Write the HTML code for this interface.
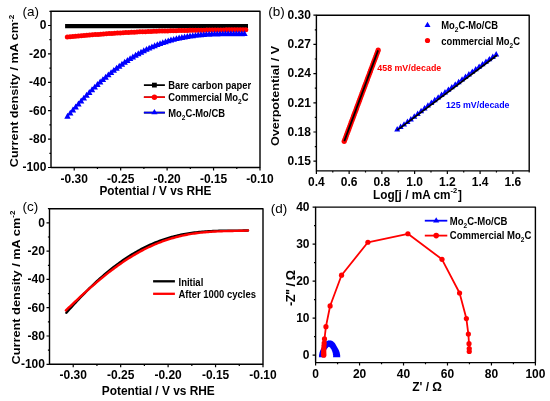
<!DOCTYPE html>
<html><head><meta charset="utf-8"><title>Figure</title>
<style>html,body{margin:0;padding:0;background:#fff;}svg{display:block;}</style>
</head><body>
<svg width="550" height="401" viewBox="0 0 550 401" font-family="'Liberation Sans', Arial, sans-serif">
<rect width="550" height="401" fill="#fff"/>
<path d="M65.1 23.9h4.4v4.4h-4.4zM67.89 23.9h4.4v4.4h-4.4zM70.68 23.9h4.4v4.4h-4.4zM73.47 23.9h4.4v4.4h-4.4zM76.26 23.9h4.4v4.4h-4.4zM79.05 23.9h4.4v4.4h-4.4zM81.83 23.9h4.4v4.4h-4.4zM84.62 23.9h4.4v4.4h-4.4zM87.41 23.9h4.4v4.4h-4.4zM90.2 23.9h4.4v4.4h-4.4zM92.99 23.9h4.4v4.4h-4.4zM95.78 23.9h4.4v4.4h-4.4zM98.57 23.9h4.4v4.4h-4.4zM101.36 23.9h4.4v4.4h-4.4zM104.15 23.9h4.4v4.4h-4.4zM106.94 23.9h4.4v4.4h-4.4zM109.72 23.9h4.4v4.4h-4.4zM112.51 23.9h4.4v4.4h-4.4zM115.3 23.9h4.4v4.4h-4.4zM118.09 23.9h4.4v4.4h-4.4zM120.88 23.9h4.4v4.4h-4.4zM123.67 23.9h4.4v4.4h-4.4zM126.46 23.9h4.4v4.4h-4.4zM129.25 23.9h4.4v4.4h-4.4zM132.04 23.9h4.4v4.4h-4.4zM134.83 23.9h4.4v4.4h-4.4zM137.62 23.9h4.4v4.4h-4.4zM140.4 23.9h4.4v4.4h-4.4zM143.19 23.9h4.4v4.4h-4.4zM145.98 23.9h4.4v4.4h-4.4zM148.77 23.9h4.4v4.4h-4.4zM151.56 23.9h4.4v4.4h-4.4zM154.35 23.9h4.4v4.4h-4.4zM157.14 23.9h4.4v4.4h-4.4zM159.93 23.9h4.4v4.4h-4.4zM162.72 23.9h4.4v4.4h-4.4zM165.51 23.9h4.4v4.4h-4.4zM168.3 23.9h4.4v4.4h-4.4zM171.08 23.9h4.4v4.4h-4.4zM173.87 23.9h4.4v4.4h-4.4zM176.66 23.9h4.4v4.4h-4.4zM179.45 23.9h4.4v4.4h-4.4zM182.24 23.9h4.4v4.4h-4.4zM185.03 23.9h4.4v4.4h-4.4zM187.82 23.9h4.4v4.4h-4.4zM190.61 23.9h4.4v4.4h-4.4zM193.4 23.9h4.4v4.4h-4.4zM196.19 23.9h4.4v4.4h-4.4zM198.98 23.9h4.4v4.4h-4.4zM201.76 23.9h4.4v4.4h-4.4zM204.55 23.9h4.4v4.4h-4.4zM207.34 23.9h4.4v4.4h-4.4zM210.13 23.9h4.4v4.4h-4.4zM212.92 23.9h4.4v4.4h-4.4zM215.71 23.9h4.4v4.4h-4.4zM218.5 23.9h4.4v4.4h-4.4zM221.29 23.9h4.4v4.4h-4.4zM224.08 23.9h4.4v4.4h-4.4zM226.87 23.9h4.4v4.4h-4.4zM229.65 23.9h4.4v4.4h-4.4zM232.44 23.9h4.4v4.4h-4.4zM235.23 23.9h4.4v4.4h-4.4zM238.02 23.9h4.4v4.4h-4.4zM240.81 23.9h4.4v4.4h-4.4zM243.6 23.9h4.4v4.4h-4.4z" fill="#000"/>
<g fill="#f00"><circle cx="67.3" cy="37" r="2.5"/><circle cx="70.09" cy="36.72" r="2.5"/><circle cx="72.88" cy="36.45" r="2.5"/><circle cx="75.67" cy="36.19" r="2.5"/><circle cx="78.46" cy="35.94" r="2.5"/><circle cx="81.25" cy="35.69" r="2.5"/><circle cx="84.03" cy="35.46" r="2.5"/><circle cx="86.82" cy="35.23" r="2.5"/><circle cx="89.61" cy="35.01" r="2.5"/><circle cx="92.4" cy="34.8" r="2.5"/><circle cx="95.19" cy="34.59" r="2.5"/><circle cx="97.98" cy="34.38" r="2.5"/><circle cx="100.77" cy="34.18" r="2.5"/><circle cx="103.56" cy="33.97" r="2.5"/><circle cx="106.35" cy="33.78" r="2.5"/><circle cx="109.14" cy="33.58" r="2.5"/><circle cx="111.92" cy="33.4" r="2.5"/><circle cx="114.71" cy="33.22" r="2.5"/><circle cx="117.5" cy="33.04" r="2.5"/><circle cx="120.29" cy="32.88" r="2.5"/><circle cx="123.08" cy="32.71" r="2.5"/><circle cx="125.87" cy="32.55" r="2.5"/><circle cx="128.66" cy="32.4" r="2.5"/><circle cx="131.45" cy="32.26" r="2.5"/><circle cx="134.24" cy="32.13" r="2.5"/><circle cx="137.03" cy="32" r="2.5"/><circle cx="139.82" cy="31.87" r="2.5"/><circle cx="142.6" cy="31.75" r="2.5"/><circle cx="145.39" cy="31.63" r="2.5"/><circle cx="148.18" cy="31.51" r="2.5"/><circle cx="150.97" cy="31.41" r="2.5"/><circle cx="153.76" cy="31.3" r="2.5"/><circle cx="156.55" cy="31.21" r="2.5"/><circle cx="159.34" cy="31.12" r="2.5"/><circle cx="162.13" cy="31.04" r="2.5"/><circle cx="164.92" cy="30.96" r="2.5"/><circle cx="167.71" cy="30.88" r="2.5"/><circle cx="170.5" cy="30.81" r="2.5"/><circle cx="173.28" cy="30.74" r="2.5"/><circle cx="176.07" cy="30.67" r="2.5"/><circle cx="178.86" cy="30.6" r="2.5"/><circle cx="181.65" cy="30.54" r="2.5"/><circle cx="184.44" cy="30.48" r="2.5"/><circle cx="187.23" cy="30.42" r="2.5"/><circle cx="190.02" cy="30.37" r="2.5"/><circle cx="192.81" cy="30.32" r="2.5"/><circle cx="195.6" cy="30.27" r="2.5"/><circle cx="198.39" cy="30.22" r="2.5"/><circle cx="201.18" cy="30.18" r="2.5"/><circle cx="203.96" cy="30.14" r="2.5"/><circle cx="206.75" cy="30.1" r="2.5"/><circle cx="209.54" cy="30.06" r="2.5"/><circle cx="212.33" cy="30.02" r="2.5"/><circle cx="215.12" cy="29.99" r="2.5"/><circle cx="217.91" cy="29.95" r="2.5"/><circle cx="220.7" cy="29.92" r="2.5"/><circle cx="223.49" cy="29.89" r="2.5"/><circle cx="226.28" cy="29.85" r="2.5"/><circle cx="229.07" cy="29.83" r="2.5"/><circle cx="231.85" cy="29.8" r="2.5"/><circle cx="234.64" cy="29.77" r="2.5"/><circle cx="237.43" cy="29.75" r="2.5"/><circle cx="240.22" cy="29.73" r="2.5"/><circle cx="243.01" cy="29.71" r="2.5"/><circle cx="245.8" cy="29.7" r="2.5"/></g>
<path d="M67.49 112.81L70.69 118.71L64.29 118.71zM70.22 109.66L73.42 115.56L67.02 115.56zM72.94 106.56L76.14 112.46L69.74 112.46zM75.66 103.51L78.86 109.41L72.46 109.41zM78.39 100.51L81.59 106.41L75.19 106.41zM81.11 97.57L84.31 103.47L77.91 103.47zM83.83 94.68L87.03 100.58L80.63 100.58zM86.56 91.85L89.76 97.75L83.36 97.75zM89.28 89.07L92.48 94.97L86.08 94.97zM92 86.36L95.2 92.26L88.8 92.26zM94.72 83.71L97.92 89.61L91.52 89.61zM97.45 81.12L100.65 87.02L94.25 87.02zM100.17 78.59L103.37 84.49L96.97 84.49zM102.89 76.13L106.09 82.03L99.69 82.03zM105.62 73.73L108.82 79.63L102.42 79.63zM108.34 71.4L111.54 77.3L105.14 77.3zM111.06 69.13L114.26 75.03L107.86 75.03zM113.78 66.94L116.98 72.84L110.58 72.84zM116.51 64.81L119.71 70.71L113.31 70.71zM119.23 62.75L122.43 68.65L116.03 68.65zM121.95 60.76L125.15 66.66L118.75 66.66zM124.68 58.84L127.88 64.74L121.48 64.74zM127.4 56.99L130.6 62.89L124.2 62.89zM130.12 55.21L133.32 61.11L126.92 61.11zM132.84 53.49L136.04 59.39L129.64 59.39zM135.57 51.85L138.77 57.75L132.37 57.75zM138.29 50.28L141.49 56.18L135.09 56.18zM141.01 48.78L144.21 54.68L137.81 54.68zM143.74 47.34L146.94 53.24L140.54 53.24zM146.46 45.97L149.66 51.87L143.26 51.87zM149.18 44.67L152.38 50.57L145.98 50.57zM151.91 43.44L155.11 49.34L148.71 49.34zM154.63 42.28L157.83 48.18L151.43 48.18zM157.35 41.17L160.55 47.07L154.15 47.07zM160.07 40.14L163.27 46.04L156.87 46.04zM162.8 39.17L166 45.07L159.6 45.07zM165.52 38.25L168.72 44.15L162.32 44.15zM168.24 37.4L171.44 43.3L165.04 43.3zM170.97 36.61L174.17 42.51L167.77 42.51zM173.69 35.88L176.89 41.78L170.49 41.78zM176.41 35.2L179.61 41.1L173.21 41.1zM179.13 34.58L182.33 40.48L175.93 40.48zM181.86 34.02L185.06 39.92L178.66 39.92zM184.58 33.5L187.78 39.4L181.38 39.4zM187.3 33.03L190.5 38.93L184.1 38.93zM190.03 32.61L193.23 38.51L186.83 38.51zM192.75 32.24L195.95 38.14L189.55 38.14zM195.47 31.9L198.67 37.8L192.27 37.8zM198.19 31.61L201.39 37.51L194.99 37.51zM200.92 31.36L204.12 37.26L197.72 37.26zM203.64 31.14L206.84 37.04L200.44 37.04zM206.36 30.96L209.56 36.86L203.16 36.86zM209.09 30.81L212.29 36.71L205.89 36.71zM211.81 30.68L215.01 36.58L208.61 36.58zM214.53 30.58L217.73 36.48L211.33 36.48zM217.25 30.5L220.45 36.4L214.05 36.4zM219.98 30.44L223.18 36.34L216.78 36.34zM222.7 30.4L225.9 36.3L219.5 36.3zM225.42 30.37L228.62 36.27L222.22 36.27zM228.15 30.35L231.35 36.25L224.95 36.25zM230.87 30.33L234.07 36.23L227.67 36.23zM233.59 30.31L236.79 36.21L230.39 36.21zM236.32 30.3L239.52 36.2L233.12 36.2zM239.04 30.28L242.24 36.18L235.84 36.18zM241.76 30.24L244.96 36.14L238.56 36.14zM244.48 30.2L247.68 36.1L241.28 36.1z" fill="#00f"/>
<rect x="51" y="11.3" width="209" height="156.2" fill="none" stroke="#000" stroke-width="1.4" stroke-linejoin="round"/>
<path d="M74.22 167.5v3.0M120.67 167.5v3.0M167.11 167.5v3.0M213.56 167.5v3.0M260 167.5v3.0M97.44 167.5v1.6M143.89 167.5v1.6M190.33 167.5v1.6M236.78 167.5v1.6M51 25.5h-3.0M51 53.9h-3.0M51 82.3h-3.0M51 110.7h-3.0M51 139.1h-3.0M51 167.5h-3.0M51 11.3h-1.6M51 39.7h-1.6M51 68.1h-1.6M51 96.5h-1.6M51 124.9h-1.6M51 153.3h-1.6" stroke="#000" stroke-width="1.2" fill="none"/>
<text transform="translate(74.22,182.7) scale(1,1.04)" font-size="12.0" font-weight="bold" text-anchor="middle" fill="#000" >-0.30</text>
<text transform="translate(120.67,182.7) scale(1,1.04)" font-size="12.0" font-weight="bold" text-anchor="middle" fill="#000" >-0.25</text>
<text transform="translate(167.11,182.7) scale(1,1.04)" font-size="12.0" font-weight="bold" text-anchor="middle" fill="#000" >-0.20</text>
<text transform="translate(213.56,182.7) scale(1,1.04)" font-size="12.0" font-weight="bold" text-anchor="middle" fill="#000" >-0.15</text>
<text transform="translate(260,182.7) scale(1,1.04)" font-size="12.0" font-weight="bold" text-anchor="middle" fill="#000" >-0.10</text>
<text transform="translate(46.4,29.4) scale(1,1.04)" font-size="12.0" font-weight="bold" text-anchor="end" fill="#000" >0</text>
<text transform="translate(46.4,57.8) scale(1,1.04)" font-size="12.0" font-weight="bold" text-anchor="end" fill="#000" >-20</text>
<text transform="translate(46.4,86.2) scale(1,1.04)" font-size="12.0" font-weight="bold" text-anchor="end" fill="#000" >-40</text>
<text transform="translate(46.4,114.6) scale(1,1.04)" font-size="12.0" font-weight="bold" text-anchor="end" fill="#000" >-60</text>
<text transform="translate(46.4,143) scale(1,1.04)" font-size="12.0" font-weight="bold" text-anchor="end" fill="#000" >-80</text>
<text transform="translate(46.4,171.4) scale(1,1.04)" font-size="12.0" font-weight="bold" text-anchor="end" fill="#000" >-100</text>
<text transform="translate(155.5,195.4) scale(1,1.07)" font-size="11.8" font-weight="bold" text-anchor="middle" fill="#000" >Potential / V vs RHE</text>
<text transform="translate(18.3,167.2) rotate(-90) scale(1.07,1)" font-size="11.8" font-weight="bold" text-anchor="start" >Current density / mA cm<tspan font-size="7.5" dy="-4.5">-2</tspan></text>
<text transform="translate(22.5,15.6) scale(1,1)" font-size="13.5" font-weight="normal" text-anchor="start" fill="#000" >(a)</text>
<path d="M143.9 85.1H164.9M143.9 97.2H164.9M143.9 112.6H164.9" stroke-width="1.6" fill="none" stroke="#000"/>
<path d="M143.9 97.2H164.9" stroke-width="1.6" stroke="#f00"/><path d="M143.9 112.6H164.9" stroke-width="1.6" stroke="#00f"/>
<path d="M152 82.7h4.8v4.8h-4.8z" fill="#000"/><circle cx="154.4" cy="97.2" r="2.7" fill="#f00"/><path d="M154.4 108.96L157.5 114.36L151.3 114.36z" fill="#00f"/>
<text transform="translate(168.2,88.9) scale(1,1.07)" font-size="9.4" font-weight="bold" text-anchor="start" fill="#000" >Bare carbon paper</text>
<text transform="translate(168.2,101) scale(1,1.07)" font-size="9.4" font-weight="bold" text-anchor="start" fill="#000" >Commercial Mo<tspan font-size="6.5" dy="3.2">2</tspan><tspan dy="-3.2">C</tspan></text>
<text transform="translate(168.2,116.7) scale(1,1.07)" font-size="9.4" font-weight="bold" text-anchor="start" fill="#000" >Mo<tspan font-size="6.5" dy="3.2">2</tspan><tspan dy="-3.2">C-Mo/CB</tspan></text>
<g fill="#f00"><circle cx="344.2" cy="141.3" r="2.6"/><circle cx="344.97" cy="139.23" r="2.6"/><circle cx="345.75" cy="137.16" r="2.6"/><circle cx="346.52" cy="135.09" r="2.6"/><circle cx="347.29" cy="133.02" r="2.6"/><circle cx="348.06" cy="130.95" r="2.6"/><circle cx="348.84" cy="128.88" r="2.6"/><circle cx="349.61" cy="126.81" r="2.6"/><circle cx="350.38" cy="124.74" r="2.6"/><circle cx="351.15" cy="122.67" r="2.6"/><circle cx="351.93" cy="120.6" r="2.6"/><circle cx="352.7" cy="118.53" r="2.6"/><circle cx="353.47" cy="116.45" r="2.6"/><circle cx="354.25" cy="114.38" r="2.6"/><circle cx="355.02" cy="112.31" r="2.6"/><circle cx="355.79" cy="110.24" r="2.6"/><circle cx="356.56" cy="108.17" r="2.6"/><circle cx="357.34" cy="106.1" r="2.6"/><circle cx="358.11" cy="104.03" r="2.6"/><circle cx="358.88" cy="101.96" r="2.6"/><circle cx="359.65" cy="99.89" r="2.6"/><circle cx="360.43" cy="97.82" r="2.6"/><circle cx="361.2" cy="95.75" r="2.6"/><circle cx="361.97" cy="93.68" r="2.6"/><circle cx="362.75" cy="91.61" r="2.6"/><circle cx="363.52" cy="89.54" r="2.6"/><circle cx="364.29" cy="87.47" r="2.6"/><circle cx="365.06" cy="85.4" r="2.6"/><circle cx="365.84" cy="83.33" r="2.6"/><circle cx="366.61" cy="81.26" r="2.6"/><circle cx="367.38" cy="79.19" r="2.6"/><circle cx="368.15" cy="77.12" r="2.6"/><circle cx="368.93" cy="75.05" r="2.6"/><circle cx="369.7" cy="72.97" r="2.6"/><circle cx="370.47" cy="70.9" r="2.6"/><circle cx="371.25" cy="68.83" r="2.6"/><circle cx="372.02" cy="66.76" r="2.6"/><circle cx="372.79" cy="64.69" r="2.6"/><circle cx="373.56" cy="62.62" r="2.6"/><circle cx="374.34" cy="60.55" r="2.6"/><circle cx="375.11" cy="58.48" r="2.6"/><circle cx="375.88" cy="56.41" r="2.6"/><circle cx="376.65" cy="54.34" r="2.6"/><circle cx="377.43" cy="52.27" r="2.6"/><circle cx="378.2" cy="50.2" r="2.6"/></g>
<path d="M344.3 141.1L378.1 50.4" stroke="#000" stroke-width="1.75" fill="none"/>
<path d="M397.2 126.06L400.2 131.46L394.2 131.46zM400.61 123.62L403.61 129.02L397.61 129.02zM404.03 121.14L407.03 126.54L401.03 126.54zM407.44 118.6L410.44 124L404.44 124zM410.86 116.02L413.86 121.42L407.86 121.42zM414.27 113.35L417.27 118.75L411.27 118.75zM417.68 110.6L420.68 116L414.68 116zM421.1 107.8L424.1 113.2L418.1 113.2zM424.51 105L427.51 110.4L421.51 110.4zM427.92 102.21L430.92 107.61L424.92 107.61zM431.34 99.48L434.34 104.88L428.34 104.88zM434.75 96.82L437.75 102.22L431.75 102.22zM438.17 94.2L441.17 99.6L435.17 99.6zM441.58 91.61L444.58 97.01L438.58 97.01zM444.99 89.04L447.99 94.44L441.99 94.44zM448.41 86.47L451.41 91.87L445.41 91.87zM451.82 83.9L454.82 89.3L448.82 89.3zM455.23 81.32L458.23 86.72L452.23 86.72zM458.65 78.73L461.65 84.13L455.65 84.13zM462.06 76.14L465.06 81.54L459.06 81.54zM465.48 73.56L468.48 78.96L462.48 78.96zM468.89 70.99L471.89 76.39L465.89 76.39zM472.3 68.44L475.3 73.84L469.3 73.84zM475.72 65.91L478.72 71.31L472.72 71.31zM479.13 63.4L482.13 68.8L476.13 68.8zM482.54 60.9L485.54 66.3L479.54 66.3zM485.96 58.42L488.96 63.82L482.96 63.82zM489.37 55.95L492.37 61.35L486.37 61.35zM492.79 53.5L495.79 58.9L489.79 58.9zM496.2 51.06L499.2 56.46L493.2 56.46z" fill="#00f"/>
<path d="M397.4 130.1L497 55.3" stroke="#000" stroke-width="1.7" fill="none"/>
<rect x="316.4" y="15.2" width="212.8" height="155.7" fill="none" stroke="#000" stroke-width="1.4" stroke-linejoin="round"/>
<path d="M316.4 170.9v3.0M349.14 170.9v3.0M381.88 170.9v3.0M414.62 170.9v3.0M447.35 170.9v3.0M480.09 170.9v3.0M512.83 170.9v3.0M332.77 170.9v1.6M365.51 170.9v1.6M398.25 170.9v1.6M430.98 170.9v1.6M463.72 170.9v1.6M496.46 170.9v1.6M529.2 170.9v1.6M316.4 161.17h-3.0M316.4 131.98h-3.0M316.4 102.78h-3.0M316.4 73.59h-3.0M316.4 44.39h-3.0M316.4 15.2h-3.0M316.4 146.57h-1.6M316.4 117.38h-1.6M316.4 88.18h-1.6M316.4 58.99h-1.6M316.4 29.8h-1.6" stroke="#000" stroke-width="1.2" fill="none"/>
<text transform="translate(316.4,186) scale(1,1.04)" font-size="12.0" font-weight="bold" text-anchor="middle" fill="#000" >0.4</text>
<text transform="translate(349.14,186) scale(1,1.04)" font-size="12.0" font-weight="bold" text-anchor="middle" fill="#000" >0.6</text>
<text transform="translate(381.88,186) scale(1,1.04)" font-size="12.0" font-weight="bold" text-anchor="middle" fill="#000" >0.8</text>
<text transform="translate(414.62,186) scale(1,1.04)" font-size="12.0" font-weight="bold" text-anchor="middle" fill="#000" >1.0</text>
<text transform="translate(447.35,186) scale(1,1.04)" font-size="12.0" font-weight="bold" text-anchor="middle" fill="#000" >1.2</text>
<text transform="translate(480.09,186) scale(1,1.04)" font-size="12.0" font-weight="bold" text-anchor="middle" fill="#000" >1.4</text>
<text transform="translate(512.83,186) scale(1,1.04)" font-size="12.0" font-weight="bold" text-anchor="middle" fill="#000" >1.6</text>
<text transform="translate(310.9,165.07) scale(1,1.04)" font-size="12.0" font-weight="bold" text-anchor="end" fill="#000" >0.15</text>
<text transform="translate(310.9,135.88) scale(1,1.04)" font-size="12.0" font-weight="bold" text-anchor="end" fill="#000" >0.18</text>
<text transform="translate(310.9,106.68) scale(1,1.04)" font-size="12.0" font-weight="bold" text-anchor="end" fill="#000" >0.21</text>
<text transform="translate(310.9,77.49) scale(1,1.04)" font-size="12.0" font-weight="bold" text-anchor="end" fill="#000" >0.24</text>
<text transform="translate(310.9,48.29) scale(1,1.04)" font-size="12.0" font-weight="bold" text-anchor="end" fill="#000" >0.27</text>
<text transform="translate(310.9,19.1) scale(1,1.04)" font-size="12.0" font-weight="bold" text-anchor="end" fill="#000" >0.30</text>
<text transform="translate(417.5,198.8) scale(1,1.07)" font-size="11.8" font-weight="bold" text-anchor="middle" fill="#000" >Log[j / mA cm<tspan font-size="7.5" dy="-5">-2</tspan><tspan dy="5" dx="0.8">]</tspan></text>
<text transform="translate(279.3,96) rotate(-90) scale(1.07,1)" font-size="11.8" font-weight="bold" text-anchor="middle" >Overpotential / V</text>
<text transform="translate(268.3,15.6) scale(1,1)" font-size="13.5" font-weight="normal" text-anchor="start" fill="#000" >(b)</text>
<path d="M427.5 21.68L430.5 26.88L424.5 26.88z" fill="#00f"/><circle cx="427.5" cy="40.5" r="2.6" fill="#f00"/>
<text transform="translate(441.2,29) scale(1,1.07)" font-size="9.4" font-weight="bold" text-anchor="start" fill="#000" >Mo<tspan font-size="6.5" dy="3.2">2</tspan><tspan dy="-3.2">C-Mo/CB</tspan></text>
<text transform="translate(441.2,44.6) scale(1,1.07)" font-size="9.4" font-weight="bold" text-anchor="start" fill="#000" >commercial Mo<tspan font-size="6.5" dy="3.2">2</tspan><tspan dy="-3.2">C</tspan></text>
<text transform="translate(377.3,70.6) scale(1,1.07)" font-size="8.85" font-weight="bold" text-anchor="start" fill="#f00" >458 mV/decade</text>
<text transform="translate(445.9,107.8) scale(1,1.07)" font-size="8.8" font-weight="bold" text-anchor="start" fill="#00f" >125 mV/decade</text>
<path d="M66.4 312.74 L67.93 311.01 L69.45 309.3 L70.98 307.61 L72.5 305.92 L74.03 304.26 L75.56 302.61 L77.08 300.97 L78.61 299.35 L80.13 297.75 L81.66 296.16 L83.19 294.59 L84.71 293.04 L86.24 291.5 L87.76 289.98 L89.29 288.48 L90.82 287 L92.34 285.53 L93.87 284.09 L95.39 282.66 L96.92 281.25 L98.45 279.86 L99.97 278.49 L101.5 277.14 L103.03 275.81 L104.55 274.5 L106.08 273.21 L107.6 271.93 L109.13 270.68 L110.66 269.45 L112.18 268.24 L113.71 267.05 L115.23 265.88 L116.76 264.73 L118.29 263.6 L119.81 262.49 L121.34 261.4 L122.86 260.34 L124.39 259.29 L125.92 258.26 L127.44 257.26 L128.97 256.28 L130.49 255.31 L132.02 254.37 L133.55 253.45 L135.07 252.55 L136.6 251.67 L138.12 250.81 L139.65 249.98 L141.18 249.16 L142.7 248.36 L144.23 247.59 L145.75 246.83 L147.28 246.1 L148.81 245.38 L150.33 244.69 L151.86 244.01 L153.38 243.36 L154.91 242.72 L156.44 242.11 L157.96 241.51 L159.49 240.93 L161.02 240.38 L162.54 239.84 L164.07 239.32 L165.59 238.82 L167.12 238.33 L168.65 237.87 L170.17 237.42 L171.7 236.99 L173.22 236.58 L174.75 236.19 L176.28 235.81 L177.8 235.45 L179.33 235.11 L180.85 234.78 L182.38 234.47 L183.91 234.17 L185.43 233.89 L186.96 233.62 L188.48 233.37 L190.01 233.13 L191.54 232.91 L193.06 232.7 L194.59 232.5 L196.11 232.32 L197.64 232.15 L199.17 231.99 L200.69 231.84 L202.22 231.7 L203.74 231.58 L205.27 231.46 L206.8 231.36 L208.32 231.26 L209.85 231.17 L211.37 231.1 L212.9 231.03 L214.43 230.97 L215.95 230.91 L217.48 230.86 L219.01 230.82 L220.53 230.78 L222.06 230.75 L223.58 230.73 L225.11 230.71 L226.64 230.69 L228.16 230.67 L229.69 230.66 L231.21 230.65 L232.74 230.64 L234.27 230.63 L235.79 230.62 L237.32 230.62 L238.84 230.61 L240.37 230.6 L241.9 230.58 L243.42 230.57 L244.95 230.55 L246.47 230.52 L248 230.49" fill="none" stroke="#000" stroke-width="2.4" stroke-linejoin="round" stroke-linecap="round" />
<path d="M65.9 310.4 L67.43 308.94 L68.96 307.48 L70.49 306.03 L72.02 304.58 L73.55 303.13 L75.08 301.69 L76.61 300.26 L78.14 298.83 L79.67 297.41 L81.2 296 L82.73 294.6 L84.26 293.2 L85.79 291.82 L87.32 290.44 L88.85 289.07 L90.38 287.72 L91.91 286.38 L93.44 285.04 L94.97 283.72 L96.51 282.41 L98.04 281.12 L99.57 279.84 L101.1 278.57 L102.63 277.31 L104.16 276.07 L105.69 274.84 L107.22 273.63 L108.75 272.43 L110.28 271.25 L111.81 270.09 L113.34 268.93 L114.87 267.8 L116.4 266.68 L117.93 265.58 L119.46 264.5 L120.99 263.43 L122.52 262.38 L124.05 261.34 L125.58 260.33 L127.11 259.33 L128.64 258.35 L130.17 257.39 L131.7 256.45 L133.23 255.52 L134.76 254.61 L136.29 253.72 L137.82 252.85 L139.35 252 L140.88 251.17 L142.41 250.36 L143.94 249.56 L145.47 248.79 L147 248.03 L148.53 247.29 L150.06 246.57 L151.59 245.87 L153.12 245.19 L154.65 244.52 L156.18 243.88 L157.72 243.25 L159.25 242.65 L160.78 242.06 L162.31 241.49 L163.84 240.93 L165.37 240.4 L166.9 239.88 L168.43 239.39 L169.96 238.9 L171.49 238.44 L173.02 238 L174.55 237.57 L176.08 237.16 L177.61 236.76 L179.14 236.38 L180.67 236.02 L182.2 235.67 L183.73 235.34 L185.26 235.03 L186.79 234.73 L188.32 234.44 L189.85 234.17 L191.38 233.92 L192.91 233.68 L194.44 233.45 L195.97 233.23 L197.5 233.03 L199.03 232.84 L200.56 232.67 L202.09 232.5 L203.62 232.35 L205.15 232.2 L206.68 232.07 L208.21 231.95 L209.74 231.83 L211.27 231.73 L212.8 231.64 L214.33 231.55 L215.86 231.47 L217.39 231.4 L218.93 231.33 L220.46 231.27 L221.99 231.22 L223.52 231.17 L225.05 231.12 L226.58 231.08 L228.11 231.05 L229.64 231.01 L231.17 230.98 L232.7 230.95 L234.23 230.91 L235.76 230.88 L237.29 230.85 L238.82 230.82 L240.35 230.79 L241.88 230.75 L243.41 230.71 L244.94 230.66 L246.47 230.61 L248 230.56" fill="none" stroke="#f00" stroke-width="2.4" stroke-linejoin="round" stroke-linecap="round" />
<rect x="49.5" y="208.7" width="213.5" height="155.6" fill="none" stroke="#000" stroke-width="1.4" stroke-linejoin="round"/>
<path d="M73.22 364.3v3.0M120.67 364.3v3.0M168.11 364.3v3.0M215.56 364.3v3.0M263 364.3v3.0M96.94 364.3v1.6M144.39 364.3v1.6M191.83 364.3v1.6M239.28 364.3v1.6M49.5 222.85h-3.0M49.5 251.14h-3.0M49.5 279.43h-3.0M49.5 307.72h-3.0M49.5 336.01h-3.0M49.5 364.3h-3.0M49.5 208.7h-1.6M49.5 236.99h-1.6M49.5 265.28h-1.6M49.5 293.57h-1.6M49.5 321.86h-1.6M49.5 350.15h-1.6" stroke="#000" stroke-width="1.2" fill="none"/>
<text transform="translate(73.22,379.2) scale(1,1.04)" font-size="12.0" font-weight="bold" text-anchor="middle" fill="#000" >-0.30</text>
<text transform="translate(120.67,379.2) scale(1,1.04)" font-size="12.0" font-weight="bold" text-anchor="middle" fill="#000" >-0.25</text>
<text transform="translate(168.11,379.2) scale(1,1.04)" font-size="12.0" font-weight="bold" text-anchor="middle" fill="#000" >-0.20</text>
<text transform="translate(215.56,379.2) scale(1,1.04)" font-size="12.0" font-weight="bold" text-anchor="middle" fill="#000" >-0.15</text>
<text transform="translate(263,379.2) scale(1,1.04)" font-size="12.0" font-weight="bold" text-anchor="middle" fill="#000" >-0.10</text>
<text transform="translate(44.9,226.75) scale(1,1.04)" font-size="12.0" font-weight="bold" text-anchor="end" fill="#000" >0</text>
<text transform="translate(44.9,255.04) scale(1,1.04)" font-size="12.0" font-weight="bold" text-anchor="end" fill="#000" >-20</text>
<text transform="translate(44.9,283.33) scale(1,1.04)" font-size="12.0" font-weight="bold" text-anchor="end" fill="#000" >-40</text>
<text transform="translate(44.9,311.62) scale(1,1.04)" font-size="12.0" font-weight="bold" text-anchor="end" fill="#000" >-60</text>
<text transform="translate(44.9,339.91) scale(1,1.04)" font-size="12.0" font-weight="bold" text-anchor="end" fill="#000" >-80</text>
<text transform="translate(44.9,368.2) scale(1,1.04)" font-size="12.0" font-weight="bold" text-anchor="end" fill="#000" >-100</text>
<text transform="translate(158.3,395) scale(1,1.07)" font-size="11.8" font-weight="bold" text-anchor="middle" fill="#000" textLength="113" lengthAdjust="spacingAndGlyphs">Potential / V vs RHE</text>
<text transform="translate(19.9,364.4) rotate(-90) scale(1.08,1)" font-size="11.8" font-weight="bold" text-anchor="start" >Current density / mA cm<tspan font-size="7.5" dy="-4.5">-2</tspan></text>
<text transform="translate(22.5,211) scale(1,1)" font-size="13.5" font-weight="normal" text-anchor="start" fill="#000" >(c)</text>
<path d="M153.1 281.3H174.9" stroke-width="2.3" stroke="#000"/><path d="M153.1 293.8H174.9" stroke-width="2.3" stroke="#f00"/>
<text transform="translate(178.5,285.9) scale(1,1.07)" font-size="9.5" font-weight="bold" text-anchor="start" fill="#000" >Initial</text>
<text transform="translate(178.5,297.9) scale(1,1.07)" font-size="9.5" font-weight="bold" text-anchor="start" fill="#000" >After 1000 cycles</text>
<path d="M321.8 351.96L324.8 357.36L318.8 357.36zM321.81 351.33L324.81 356.73L318.81 356.73zM321.84 350.71L324.84 356.11L318.84 356.11zM321.9 350.08L324.9 355.48L318.9 355.48zM321.98 349.47L324.98 354.87L318.98 354.87zM322.07 348.86L325.07 354.26L319.07 354.26zM322.19 348.25L325.19 353.65L319.19 353.65zM322.34 347.66L325.34 353.06L319.34 353.06zM322.5 347.08L325.5 352.48L319.5 352.48zM322.68 346.52L325.68 351.92L319.68 351.92zM322.88 345.97L325.88 351.37L319.88 351.37zM323.1 345.44L326.1 350.84L320.1 350.84zM323.34 344.92L326.34 350.32L320.34 350.32zM323.6 344.43L326.6 349.83L320.6 349.83zM323.87 343.96L326.87 349.36L320.87 349.36zM324.16 343.51L327.16 348.91L321.16 348.91zM324.46 343.08L327.46 348.48L321.46 348.48zM324.78 342.68L327.78 348.08L321.78 348.08zM325.12 342.3L328.12 347.7L322.12 347.7zM325.46 341.96L328.46 347.36L322.46 347.36zM325.82 341.64L328.82 347.04L322.82 347.04zM326.19 341.35L329.19 346.75L323.19 346.75zM326.57 341.09L329.57 346.49L323.57 346.49zM326.95 340.86L329.95 346.26L323.95 346.26zM327.35 340.66L330.35 346.06L324.35 346.06zM327.75 340.5L330.75 345.9L324.75 345.9zM328.15 340.36L331.15 345.76L325.15 345.76zM328.56 340.26L331.56 345.66L325.56 345.66zM328.98 340.2L331.98 345.6L325.98 345.6zM329.39 340.16L332.39 345.56L326.39 345.56zM329.81 340.16L332.81 345.56L326.81 345.56zM330.22 340.2L333.22 345.6L327.22 345.6zM330.64 340.26L333.64 345.66L327.64 345.66zM331.05 340.36L334.05 345.76L328.05 345.76zM331.45 340.5L334.45 345.9L328.45 345.9zM331.85 340.66L334.85 346.06L328.85 346.06zM332.25 340.86L335.25 346.26L329.25 346.26zM332.63 341.09L335.63 346.49L329.63 346.49zM333.01 341.35L336.01 346.75L330.01 346.75zM333.38 341.64L336.38 347.04L330.38 347.04zM333.74 341.96L336.74 347.36L330.74 347.36zM334.08 342.3L337.08 347.7L331.08 347.7zM334.42 342.68L337.42 348.08L331.42 348.08zM334.74 343.08L337.74 348.48L331.74 348.48zM335.04 343.51L338.04 348.91L332.04 348.91zM335.33 343.96L338.33 349.36L332.33 349.36zM335.6 344.43L338.6 349.83L332.6 349.83zM335.86 344.92L338.86 350.32L332.86 350.32zM336.1 345.44L339.1 350.84L333.1 350.84zM336.32 345.97L339.32 351.37L333.32 351.37zM336.52 346.52L339.52 351.92L333.52 351.92zM336.7 347.08L339.7 352.48L333.7 352.48zM336.86 347.66L339.86 353.06L333.86 353.06zM337.01 348.25L340.01 353.65L334.01 353.65zM337.13 348.86L340.13 354.26L334.13 354.26zM337.22 349.47L340.22 354.87L334.22 354.87zM337.3 350.08L340.3 355.48L334.3 355.48zM337.36 350.71L340.36 356.11L334.36 356.11zM337.39 351.33L340.39 356.73L334.39 356.73zM337.4 351.96L340.4 357.36L334.4 357.36zM331.12 341.08L334.12 346.48L328.12 346.48zM331.45 341.24L334.45 346.64L328.45 346.64zM331.77 341.42L334.77 346.82L328.77 346.82zM332.09 341.64L335.09 347.04L329.09 347.04zM332.4 341.89L335.4 347.29L329.4 347.29zM332.7 342.16L335.7 347.56L329.7 347.56zM332.99 342.47L335.99 347.87L329.99 347.87zM333.28 342.8L336.28 348.2L330.28 348.2zM333.55 343.15L336.55 348.55L330.55 348.55zM333.81 343.53L336.81 348.93L330.81 348.93zM334.06 343.94L337.06 349.34L331.06 349.34zM334.3 344.36L337.3 349.76L331.3 349.76zM334.53 344.81L337.53 350.21L331.53 350.21zM334.74 345.28L337.74 350.68L331.74 350.68zM334.93 345.77L337.93 351.17L331.93 351.17zM335.11 346.27L338.11 351.67L332.11 351.67zM335.28 346.8L338.28 352.2L332.28 352.2zM335.43 347.33L338.43 352.73L332.43 352.73zM335.56 347.88L338.56 353.28L332.56 353.28zM335.68 348.44L338.68 353.84L332.68 353.84zM335.77 349.01L338.77 354.41L332.77 354.41zM335.86 349.59L338.86 354.99L332.86 354.99zM335.92 350.18L338.92 355.58L332.92 355.58zM335.96 350.77L338.96 356.17L332.96 356.17zM335.99 351.36L338.99 356.76L332.99 356.76zM336 351.96L339 357.36L333 357.36z" fill="#00f"/>
<path d="M323.73 355.2 L323.73 354.08 L323.73 352.6 L323.73 350.75 L323.84 348.53 L323.95 345.94 L324.17 342.98 L324.5 338.9 L325.93 326.69 L330.11 305.95 L341.54 275.22 L367.91 242.27 L407.92 233.76 L441.99 259.3 L459.57 293 L466.38 318.54 L468.36 334.09 L469.02 343.72 L469.24 348.53 L469.24 351.49" fill="none" stroke="#f00" stroke-width="1.8" stroke-linejoin="round" stroke-linecap="round" />
<g fill="#f00"><circle cx="323.73" cy="355.2" r="2.6"/><circle cx="323.73" cy="354.08" r="2.6"/><circle cx="323.73" cy="352.6" r="2.6"/><circle cx="323.73" cy="350.75" r="2.6"/><circle cx="323.84" cy="348.53" r="2.6"/><circle cx="323.95" cy="345.94" r="2.6"/><circle cx="324.17" cy="342.98" r="2.6"/><circle cx="324.5" cy="338.9" r="2.6"/><circle cx="325.93" cy="326.69" r="2.6"/><circle cx="330.11" cy="305.95" r="2.6"/><circle cx="341.54" cy="275.22" r="2.6"/><circle cx="367.91" cy="242.27" r="2.6"/><circle cx="407.92" cy="233.76" r="2.6"/><circle cx="441.99" cy="259.3" r="2.6"/><circle cx="459.57" cy="293" r="2.6"/><circle cx="466.38" cy="318.54" r="2.6"/><circle cx="468.36" cy="334.09" r="2.6"/><circle cx="469.02" cy="343.72" r="2.6"/><circle cx="469.24" cy="348.53" r="2.6"/><circle cx="469.24" cy="351.49" r="2.6"/></g>
<rect x="315.6" y="207.1" width="219.8" height="155.5" fill="none" stroke="#000" stroke-width="1.4" stroke-linejoin="round"/>
<path d="M315.6 362.6v3.0M359.56 362.6v3.0M403.52 362.6v3.0M447.48 362.6v3.0M491.44 362.6v3.0M535.4 362.6v3.0M337.58 362.6v1.6M381.54 362.6v1.6M425.5 362.6v1.6M469.46 362.6v1.6M513.42 362.6v1.6M315.6 355.2h-3.0M315.6 318.17h-3.0M315.6 281.15h-3.0M315.6 244.12h-3.0M315.6 207.1h-3.0M315.6 336.68h-1.6M315.6 299.66h-1.6M315.6 262.64h-1.6M315.6 225.61h-1.6" stroke="#000" stroke-width="1.2" fill="none"/>
<text transform="translate(315.6,377.8) scale(1,1.04)" font-size="12.0" font-weight="bold" text-anchor="middle" fill="#000" >0</text>
<text transform="translate(359.56,377.8) scale(1,1.04)" font-size="12.0" font-weight="bold" text-anchor="middle" fill="#000" >20</text>
<text transform="translate(403.52,377.8) scale(1,1.04)" font-size="12.0" font-weight="bold" text-anchor="middle" fill="#000" >40</text>
<text transform="translate(447.48,377.8) scale(1,1.04)" font-size="12.0" font-weight="bold" text-anchor="middle" fill="#000" >60</text>
<text transform="translate(491.44,377.8) scale(1,1.04)" font-size="12.0" font-weight="bold" text-anchor="middle" fill="#000" >80</text>
<text transform="translate(535.4,377.8) scale(1,1.04)" font-size="12.0" font-weight="bold" text-anchor="middle" fill="#000" >100</text>
<text transform="translate(309.5,359.1) scale(1,1.04)" font-size="12.0" font-weight="bold" text-anchor="end" fill="#000" >0</text>
<text transform="translate(309.5,322.07) scale(1,1.04)" font-size="12.0" font-weight="bold" text-anchor="end" fill="#000" >10</text>
<text transform="translate(309.5,285.05) scale(1,1.04)" font-size="12.0" font-weight="bold" text-anchor="end" fill="#000" >20</text>
<text transform="translate(309.5,248.02) scale(1,1.04)" font-size="12.0" font-weight="bold" text-anchor="end" fill="#000" >30</text>
<text transform="translate(309.5,211) scale(1,1.04)" font-size="12.0" font-weight="bold" text-anchor="end" fill="#000" >40</text>
<text transform="translate(427.1,390.9) scale(1,1.07)" font-size="12" font-weight="bold" text-anchor="middle" fill="#000" >Z' / Ω</text>
<text transform="translate(295.2,288.2) rotate(-90) scale(1.07,1)" font-size="12" font-weight="bold" text-anchor="middle" letter-spacing="-0.4">-Z'' / Ω</text>
<text transform="translate(270.8,212.5) scale(1,1)" font-size="13.5" font-weight="normal" text-anchor="start" fill="#000" >(d)</text>
<path d="M424.8 220.7H447.3" stroke-width="1.8" stroke="#00f"/><path d="M424.8 235.6H447.3" stroke-width="1.8" stroke="#f00"/>
<path d="M436.2 217.16L439.3 222.56L433.1 222.56z" fill="#00f"/><circle cx="436.2" cy="235.6" r="2.8" fill="#f00"/>
<text transform="translate(449.8,224.9) scale(1,1.07)" font-size="9.55" font-weight="bold" text-anchor="start" fill="#000" >Mo<tspan font-size="6.5" dy="3.2">2</tspan><tspan dy="-3.2">C-Mo/CB</tspan></text>
<text transform="translate(449.8,239) scale(1,1.07)" font-size="9.55" font-weight="bold" text-anchor="start" fill="#000" >Commercial Mo<tspan font-size="6.5" dy="3.2">2</tspan><tspan dy="-3.2">C</tspan></text>
</svg>
</body></html>
